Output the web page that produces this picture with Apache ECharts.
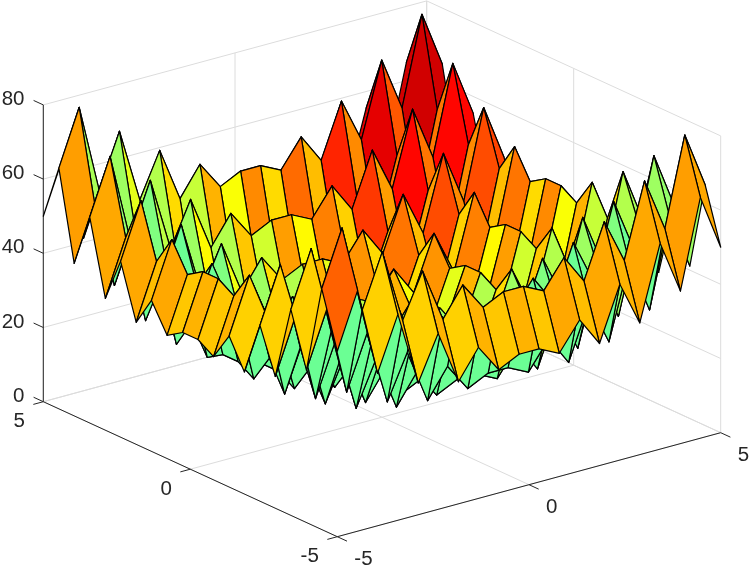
<!DOCTYPE html>
<html>
<head>
<meta charset="utf-8">
<style>
html, body { margin: 0; padding: 0; background: #fff; }
#main { width: 751px; height: 569px; }
</style>
<script src="https://cdn.jsdelivr.net/npm/echarts@6/dist/echarts.min.js"></script>
</head>
<body>
<div id="main"></div>
<script>
var xTicks = [-5, 0, 5];
var yTicks = [-5, 0, 5];
var zTicks = [0, 20, 40, 60, 80];
var zTop = 80;

// grid of the surface
var gridX = [-5, -4.47, -3.95, -3.42, -2.89, -2.37, -1.84, -1.32, -0.79, -0.26, 0.26, 0.79, 1.32, 1.84, 2.37, 2.89, 3.42, 3.95, 4.47, 5];
var gridY = gridX.slice();

// height at each grid point, rows follow gridX
var heights = [
	[50,64.9,41.1,55.5,35.5,47.4,32.9,40.7,33.2,35.9,35.9,33.2,40.7,32.9,47.4,35.5,55.5,41.1,64.9,50],
	[64.9,79.8,56,70.4,50.4,62.3,47.8,55.6,48.1,50.8,50.8,48.1,55.6,47.8,62.3,50.4,70.4,56,79.8,64.9],
	[41.1,56,32.2,46.6,26.6,38.5,24,31.8,24.3,27,27,24.3,31.8,24,38.5,26.6,46.6,32.2,56,41.1],
	[55.5,70.4,46.6,61,41,52.9,38.4,46.2,38.7,41.4,41.4,38.7,46.2,38.4,52.9,41,61,46.6,70.4,55.5],
	[35.5,50.4,26.6,41,21,32.9,18.4,26.2,18.7,21.4,21.4,18.7,26.2,18.4,32.9,21,41,26.6,50.4,35.5],
	[47.4,62.3,38.5,52.9,32.9,44.8,30.3,38.1,30.6,33.3,33.3,30.6,38.1,30.3,44.8,32.9,52.9,38.5,62.3,47.4],
	[32.9,47.8,24,38.4,18.4,30.3,15.8,23.6,16.1,18.8,18.8,16.1,23.6,15.8,30.3,18.4,38.4,24,47.8,32.9],
	[40.7,55.6,31.8,46.2,26.2,38.1,23.6,31.4,23.9,26.6,26.6,23.9,31.4,23.6,38.1,26.2,46.2,31.8,55.6,40.7],
	[33.2,48.1,24.3,38.7,18.7,30.6,16.1,23.9,16.4,19.1,19.1,16.4,23.9,16.1,30.6,18.7,38.7,24.3,48.1,33.2],
	[35.9,50.8,27,41.4,21.4,33.3,18.8,26.6,19.1,21.8,21.8,19.1,26.6,18.8,33.3,21.4,41.4,27,50.8,35.9],
	[35.9,50.8,27,41.4,21.4,33.3,18.8,26.6,19.1,21.8,21.8,19.1,26.6,18.8,33.3,21.4,41.4,27,50.8,35.9],
	[33.2,48.1,24.3,38.7,18.7,30.6,16.1,23.9,16.4,19.1,19.1,16.4,23.9,16.1,30.6,18.7,38.7,24.3,48.1,33.2],
	[40.7,55.6,31.8,46.2,26.2,38.1,23.6,31.4,23.9,26.6,26.6,23.9,31.4,23.6,38.1,26.2,46.2,31.8,55.6,40.7],
	[32.9,47.8,24,38.4,18.4,30.3,15.8,23.6,16.1,18.8,18.8,16.1,23.6,15.8,30.3,18.4,38.4,24,47.8,32.9],
	[47.4,62.3,38.5,52.9,32.9,44.8,30.3,38.1,30.6,33.3,33.3,30.6,38.1,30.3,44.8,32.9,52.9,38.5,62.3,47.4],
	[35.5,50.4,26.6,41,21,32.9,18.4,26.2,18.7,21.4,21.4,18.7,26.2,18.4,32.9,21,41,26.6,50.4,35.5],
	[55.5,70.4,46.6,61,41,52.9,38.4,46.2,38.7,41.4,41.4,38.7,46.2,38.4,52.9,41,61,46.6,70.4,55.5],
	[41.1,56,32.2,46.6,26.6,38.5,24,31.8,24.3,27,27,24.3,31.8,24,38.5,26.6,46.6,32.2,56,41.1],
	[64.9,79.8,56,70.4,50.4,62.3,47.8,55.6,48.1,50.8,50.8,48.1,55.6,47.8,62.3,50.4,70.4,56,79.8,64.9],
	[50,64.9,41.1,55.5,35.5,47.4,32.9,40.7,33.2,35.9,35.9,33.2,40.7,32.9,47.4,35.5,55.5,41.1,64.9,50]
];

// colour level of each face in percent of the jet scale, read by eye
var faceLevels = [
	[78,68,67,69,67,70,67,70,68,70,68,71,69,71,70,71,71,72,71],
	[68,48,48,48,48,48,48,48,48,48,48,48,48,48,48,52,48,54,53],
	[67,48,48,48,48,48,48,48,48,48,48,48,48,48,48,50,48,53,52],
	[69,48,48,48,48,48,48,48,48,48,48,52,48,54,48,56,53,60,58],
	[67,48,48,48,48,48,48,48,48,48,48,48,48,50,48,53,48,55,54],
	[70,48,48,48,48,48,48,48,48,53,48,56,48,61,53,63,58,66,65],
	[67,48,48,48,48,48,48,48,48,48,48,49,48,53,48,55,51,57,56],
	[70,48,48,48,48,48,48,54,48,58,48,63,53,66,57,68,64,70,69],
	[68,48,48,48,48,48,48,48,48,48,48,53,48,55,48,58,54,62,61],
	[70,48,48,48,48,53,48,58,48,64,53,67,57,70,63,72,68,74,73],
	[68,48,48,48,48,48,48,48,48,53,48,56,48,60,52,63,57,66,65],
	[71,48,48,52,48,56,49,63,53,67,56,70,62,73,67,75,71,77,76],
	[69,48,48,48,48,48,48,53,48,57,48,62,52,66,56,67,63,69,68],
	[71,48,48,54,50,61,53,66,55,70,60,73,66,76,69,82,74,84,81],
	[70,48,48,48,48,53,48,57,48,63,52,67,56,69,63,72,68,74,73],
	[71,52,50,56,53,63,55,68,58,72,63,75,67,80,72,87,76,90,90],
	[71,48,48,53,48,58,51,64,54,68,57,71,63,74,68,76,73,79,78],
	[72,54,53,60,55,66,57,70,62,74,66,76,69,80,74,87,76,92,92],
	[71,53,52,58,54,65,56,69,61,73,65,76,68,81,73,87,78,92,92]
];

// view: screen step of one unit along each data axis
var viewX = [38.34, 10.4];
var viewY = [-29.4, 13.5];
var viewZ = 3.71;

function project(x, y, z) {
	return [viewX[0] * x + viewY[0] * y, viewX[1] * x + viewY[1] * y + viewZ * z];
}

function clip01(v) {
	return Math.max(0, Math.min(1, v));
}

function jet(level) {
	var t = level / 100;
	var r = clip01(1.5 - Math.abs(4 * t - 3));
	var g = clip01(1.5 - Math.abs(4 * t - 2));
	var b = clip01(1.5 - Math.abs(4 * t - 1));
	return 'rgb(' + Math.round(r * 255) + ',' + Math.round(g * 255) + ',' + Math.round(b * 255) + ')';
}

// faces go back to front so nearer ones paint over
var faces = [];
for (var i = gridX.length - 2; i >= 0; i--) {
	for (var j = gridY.length - 2; j >= 0; j--) {
		faces.push([i, j]);
	}
}

var xMin = xTicks[0], xMax = xTicks[xTicks.length - 1];
var yMin = yTicks[0], yMax = yTicks[yTicks.length - 1];

var gridLines = [];
zTicks.forEach(function (z) {
	gridLines.push([[xMin, yMax, z], [xMax, yMax, z], [xMax, yMin, z]]);
});
xTicks.forEach(function (x) {
	gridLines.push([[x, yMin, 0], [x, yMax, 0], [x, yMax, zTop]]);
});
yTicks.forEach(function (y) {
	gridLines.push([[xMin, y, 0], [xMax, y, 0], [xMax, y, zTop]]);
});

var axisLines = [
	[[xMin, yMin, 0], [xMax, yMin, 0]],
	[[xMin, yMin, 0], [xMin, yMax, 0]],
	[[xMin, yMax, 0], [xMin, yMax, zTop]]
];
xTicks.forEach(function (x) {
	axisLines.push([[x, yMin, 0], [x, yMin - 0.33, 0]]);
});
yTicks.forEach(function (y) {
	axisLines.push([[xMin, y, 0], [xMin - 0.26, y, 0]]);
});
zTicks.forEach(function (z) {
	axisLines.push([[xMin, yMax, z], [xMin, yMax + 0.33, z]]);
});

var labels = [];
xTicks.forEach(function (x) {
	labels.push({ text: String(x), at: [x, yMin, 0], dx: 17, dy: 23, align: 'left' });
});
yTicks.forEach(function (y) {
	labels.push({ text: String(y), at: [xMin, y, 0], dx: -18.5, dy: 20, align: 'right' });
});
zTicks.forEach(function (z) {
	labels.push({ text: String(z), at: [xMin, yMax, z], dx: -18.8, dy: -5.5, align: 'right' });
});

function polyline(api, pts, color, width) {
	return {
		type: 'polyline',
		shape: { points: pts.map(function (p) { return api.coord(project(p[0], p[1], p[2])); }) },
		style: { fill: null, stroke: color, lineWidth: width }
	};
}

function indexData(list) {
	return list.map(function (d, n) { return [n]; });
}

var chart = echarts.init(document.getElementById('main'), null, { renderer: 'canvas' });
chart.setOption({
	animation: false,
	backgroundColor: '#fff',
	grid: { left: 0, right: 0, top: 0, bottom: 0 },
	xAxis: { type: 'value', min: -382, max: 369, show: false },
	yAxis: { type: 'value', min: -151.8, max: 417.2, show: false },
	series: [{
		type: 'custom',
		silent: true,
		clip: false,
		coordinateSystem: 'cartesian2d',
		data: indexData(gridLines),
		encode: { x: 0, y: 0 },
		renderItem: function (params, api) {
			return polyline(api, gridLines[params.dataIndex], '#dcdcdc', 1);
		}
	}, {
		type: 'custom',
		silent: true,
		clip: false,
		coordinateSystem: 'cartesian2d',
		data: indexData(axisLines),
		encode: { x: 0, y: 0 },
		renderItem: function (params, api) {
			return polyline(api, axisLines[params.dataIndex], '#262626', 1);
		}
	}, {
		type: 'custom',
		silent: true,
		clip: false,
		coordinateSystem: 'cartesian2d',
		data: indexData(faces),
		encode: { x: 0, y: 0 },
		renderItem: function (params, api) {
			var f = faces[params.dataIndex], i = f[0], j = f[1];
			var corners = [[i, j], [i + 1, j], [i + 1, j + 1], [i, j + 1]];
			return {
				type: 'polygon',
				shape: {
					points: corners.map(function (c) {
						return api.coord(project(gridX[c[0]], gridY[c[1]], heights[c[0]][c[1]]));
					})
				},
				style: { fill: jet(faceLevels[i][j]), stroke: '#000', lineWidth: 1.2, lineJoin: 'round' }
			};
		}
	}, {
		type: 'custom',
		silent: true,
		clip: false,
		coordinateSystem: 'cartesian2d',
		data: indexData(labels),
		encode: { x: 0, y: 0 },
		renderItem: function (params, api) {
			var l = labels[params.dataIndex];
			var p = api.coord(project(l.at[0], l.at[1], l.at[2]));
			return {
				type: 'text',
				style: {
					x: p[0] + l.dx,
					y: p[1] + l.dy,
					text: l.text,
					textAlign: l.align,
					textVerticalAlign: 'middle',
					fontFamily: '"Liberation Sans", Arial, sans-serif',
					fontSize: 20.5,
					fill: '#262626'
				}
			};
		}
	}]
});
</script>
</body>
</html>
